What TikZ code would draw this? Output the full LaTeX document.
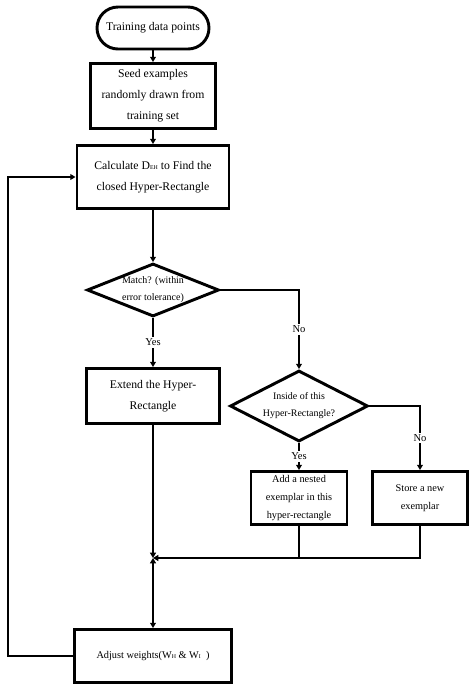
\documentclass[tikz,border=0pt]{standalone}
\usepackage{fontspec}
\setmainfont{Liberation Serif}
\usetikzlibrary{shapes.geometric,arrows.meta}

\begin{document}
\begin{tikzpicture}[x=0.03cm,y=-0.03cm,line width=2pt,
  box/.style={draw,rectangle,line width=2.5pt,align=center,font=\fontsize{10}{18}\selectfont},
  smallbox/.style={box,font=\fontsize{8.8}{15}\selectfont},
  decision/.style={draw,diamond,shape aspect=2.5,line width=2.5pt,inner sep=0pt,align=center,font=\fontsize{8.5}{14.5}\selectfont},
  lbl/.style={fill=white,inner sep=1.5pt,font=\fontsize{9}{10}\selectfont},
  arr/.style={-{Triangle[length=4.5pt,width=5pt]}},
  twoarr/.style={{Triangle[length=4.5pt,width=5pt]}-{Triangle[length=4.5pt,width=5pt]}}]
  \useasboundingbox (0,0) rectangle (474,687);

  % boxes
  \node[box,rounded corners=0.63cm,minimum width=3.36cm,minimum height=1.26cm] (start) at (153,28) {Training data points};
  \node[box,minimum width=3.75cm,minimum height=1.95cm] (seed) at (153,96) {Seed examples\\randomly drawn from\\training set};
  \node[box,minimum width=4.56cm,minimum height=1.89cm] (calc) at (153,177) {Calculate D{\tiny EH} to Find the\\closed Hyper-Rectangle};
  \node[decision,minimum width=3.96cm,minimum height=1.59cm] (match) at (153,290) {Match? (within\\error tolerance)};
  \node[box,minimum width=3.99cm,minimum height=1.65cm] (extend) at (153,396) {Extend the Hyper-\\Rectangle};
  \node[decision,minimum width=4.14cm,minimum height=2.13cm] (inside) at (299,406) {Inside of this\\Hyper-Rectangle?};
  \node[smallbox,minimum width=2.88cm,minimum height=1.59cm] (nested) at (299,498) {Add a nested\\exemplar in this\\hyper-rectangle};
  \node[smallbox,minimum width=2.85cm,minimum height=1.59cm] (store) at (420,498) {Store a new\\exemplar};
  \node[smallbox,minimum width=4.71cm,minimum height=1.59cm] (adjust) at (153,656) {Adjust weights(W{\tiny H} \& W{\tiny I}~~)};

  \coordinate (join) at (153,558);
  \coordinate (back) at (8,656);

  % connectors
  \draw[arr] (start) -- (seed);
  \draw[arr] (seed) -- (calc);
  \draw[arr] (calc) -- (match);
  \draw[arr] (match) -- node[lbl]{Yes} (extend);
  \draw[arr] (match.east) -| node[lbl,pos=0.75]{No} (inside.north);
  \draw[arr] (inside) -- node[lbl]{Yes} (nested);
  \draw[arr] (inside.east) -| node[lbl,pos=0.75]{No} (store.north);
  \draw[arr] (extend) -- (join);
  \draw[arr] (store.south) |- (join);
  \draw (nested.south) -- (nested.south |- join);
  \draw[twoarr] (join) -- (adjust);
  \draw[arr] (adjust.west) -- (back) |- (calc.west);
\end{tikzpicture}
\end{document}
